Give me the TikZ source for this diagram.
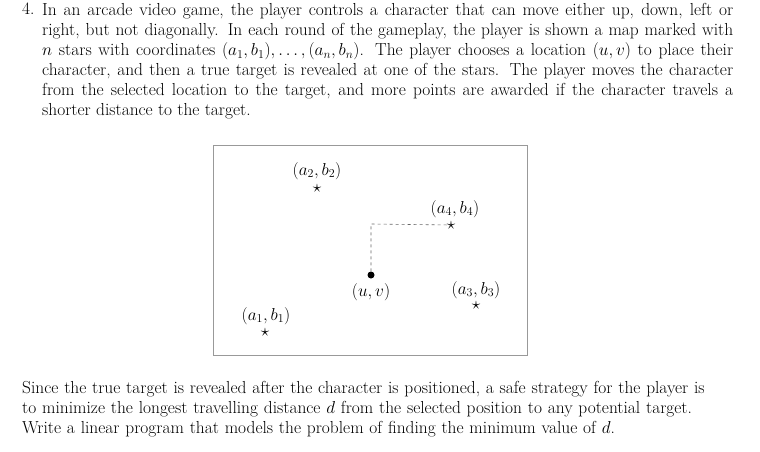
\documentclass[tikz,border=0pt]{standalone}
\begin{document}
\begin{tikzpicture}[x=1pt,y=-1pt,
  para/.style={anchor=north west,inner sep=0pt,align=justify,font=\fontsize{17.4}{20}\selectfont},
  lab/.style={font=\fontsize{18}{18}\selectfont,inner sep=0pt},
  star/.style={font=\fontsize{16}{16}\selectfont,inner sep=0pt}]
\useasboundingbox (0,0) rectangle (760,451);
\node[para,anchor=north west] (num) at (22,3) {4.};
\node[para,text width=691pt] (p1) at (42,3) {In an arcade video game, the player controls a character that can move either up, down, left or\linebreak
right, but not diagonally. In each round of the gameplay, the player is shown a map marked with\linebreak
$n$ stars with coordinates $(a_1,b_1),\ldots,(a_n,b_n)$. The player chooses a location $(u,v)$ to place their\linebreak
character, and then a true target is revealed at one of the stars. The player moves the character\linebreak
from the selected location to the target, and more points are awarded if the character travels a\linebreak
shorter distance to the target.};
\draw[gray!80,line width=1pt] (213,145) rectangle (527,355);
\node[star] (s2) at (317,188) {$\star$};
\node[star] (s4) at (451,225) {$\star$};
\node[star] (s1) at (265,332) {$\star$};
\node[star] (s3) at (476,305) {$\star$};
\node[circle,fill,inner sep=0pt,minimum size=7pt] (uv) at (371,275) {};
\coordinate (c) at (371,224);
\draw[dashed,gray!80!black,line width=0.6pt] (uv) -- (c) -- (s4.center);
\node[lab] (l2) at (317,171) {$(a_2,b_2)$};
\node[lab] (l4) at (455,209) {$(a_4,b_4)$};
\node[lab] (luv) at (371,292) {$(u,v)$};
\node[lab] (l3) at (476,290) {$(a_3,b_3)$};
\node[lab] (l1) at (266,316) {$(a_1,b_1)$};
\node[para,text width=730pt,align=left] (p2) at (22,381) {Since the true target is revealed after the character is positioned, a safe strategy for the player is\\
to minimize the longest travelling distance $d$ from the selected position to any potential target.\\
Write a linear program that models the problem of finding the minimum value of $d$.};
\end{tikzpicture}
\end{document}
